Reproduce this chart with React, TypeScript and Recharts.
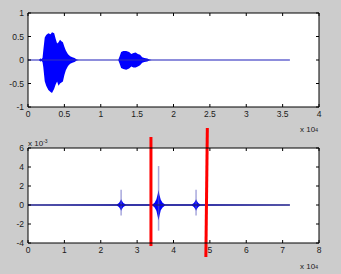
import {
  Area,
  CartesianGrid,
  ComposedChart,
  Line,
  ReferenceLine,
  XAxis,
  YAxis,
} from "recharts";

// top panel: speech waveform envelope (x in units of 10^4 samples)
const topX = [0, 0.15, 0.17, 0.19, 0.2, 0.21, 0.23, 0.25, 0.28, 0.31, 0.33, 0.36, 0.38, 0.4, 0.42, 0.44, 0.46, 0.48, 0.5, 0.52, 0.55, 0.58, 0.61, 0.64, 0.67, 0.7, 1.24, 1.26, 1.28, 1.31, 1.35, 1.39, 1.42, 1.45, 1.48, 1.51, 1.54, 1.57, 1.6, 1.64, 1.67, 1.7, 3.6];
const topLow = [0, 0, -0.03, -0.02, -0.05, -0.15, -0.45, -0.55, -0.64, -0.68, -0.7, -0.61, -0.52, -0.46, -0.55, -0.5, -0.48, -0.46, -0.32, -0.22, -0.13, -0.08, -0.06, -0.04, -0.01, 0, 0, -0.08, -0.17, -0.19, -0.21, -0.18, -0.14, -0.16, -0.16, -0.14, -0.11, -0.06, -0.04, -0.03, -0.01, 0, 0];
const topHigh = [0, 0, 0.03, 0.02, 0.05, 0.2, 0.48, 0.53, 0.57, 0.55, 0.59, 0.57, 0.45, 0.35, 0.38, 0.43, 0.4, 0.38, 0.28, 0.2, 0.12, 0.08, 0.06, 0.04, 0.01, 0, 0, 0.08, 0.17, 0.19, 0.19, 0.17, 0.13, 0.15, 0.16, 0.13, 0.11, 0.06, 0.04, 0.03, 0.01, 0, 0];
const topXTicks = [0, 0.5, 1, 1.5, 2, 2.5, 3, 3.5, 4];
const topYTicks = [-1, -0.5, 0, 0.5, 1];

// bottom panel: detected bursts (x in 10^4, y in 10^-3)
const bottomX = [0, 2.44, 2.5, 2.54, 2.56, 2.58, 2.62, 2.69, 3.42, 3.48, 3.53, 3.57, 3.59, 3.61, 3.65, 3.7, 3.77, 4.5, 4.56, 4.6, 4.62, 4.64, 4.68, 4.74, 7.2];
const bottomLow = [0, -0.05, -0.2, -0.45, -0.6, -0.45, -0.2, -0.05, -0.05, -0.25, -0.6, -1.3, -1.6, -1.2, -0.55, -0.25, -0.05, -0.05, -0.2, -0.45, -0.6, -0.45, -0.2, -0.05, 0];
const bottomHigh = [0, 0.05, 0.2, 0.45, 0.6, 0.45, 0.2, 0.05, 0.05, 0.25, 0.6, 1.2, 1.6, 1.1, 0.55, 0.25, 0.05, 0.05, 0.2, 0.45, 0.6, 0.45, 0.2, 0.05, 0];
const spikeX = [2.56, 3.59, 4.62];
const spikeLow = [-1.1, -2.7, -1.1];
const spikeHigh = [1.6, 4.1, 1.6];
const bottomXTicks = [0, 1, 2, 3, 4, 5, 6, 7, 8];
const bottomYTicks = [-4, -2, 0, 2, 4, 6];

// hand drawn red cut marks
const cutTopX = [3.38, 4.93];
const cutBottomX = [3.38, 4.89];
const cutTopY = [7.16, 8.1];
const cutBottomY = [-4.32, -5.47];

const topData = topX.map((x, i) => ({ x, env: [topLow[i], topHigh[i]], base: 0 }));
const bottomData = bottomX.map((x, i) => ({
  x,
  env: [bottomLow[i], bottomHigh[i]],
  base: 0,
}));

const font = "'Liberation Sans', Arial, sans-serif";
const tickStyle = { fontSize: 8.5, fill: "#1a1a1a", fontFamily: font };
const axisProps = {
  tick: tickStyle,
  tickSize: -3,
  tickMargin: 7,
  axisLine: { stroke: "#000" },
  tickLine: { stroke: "#000" },
  interval: 0 as const,
  allowDataOverflow: true,
};
const blank = () => "";

const labelStyle: React.CSSProperties = {
  position: "absolute",
  fontFamily: font,
  fontSize: 8,
  color: "#1a1a1a",
  lineHeight: "8px",
  whiteSpace: "nowrap",
};

export default function App() {
  return (
    <div
      style={{
        position: "absolute",
        left: 0,
        top: 0,
        width: 341,
        height: 274,
        background: "#cccccc",
        overflow: "hidden",
      }}
    >
      <div style={{ position: "absolute", left: 0, top: 0 }}>
        <ComposedChart
          width={341}
          height={137}
          data={topData}
          margin={{ top: 12, right: 21, bottom: 0, left: 0 }}
        >
          <CartesianGrid fill="#ffffff" stroke="none" horizontal={false} vertical={false} />
          <XAxis dataKey="x" type="number" domain={[0, 4]} ticks={topXTicks} height={30} {...axisProps} />
          <XAxis dataKey="x" xAxisId="t" orientation="top" type="number" domain={[0, 4]} ticks={topXTicks} height={1} {...axisProps} tickFormatter={blank} />
          <YAxis type="number" domain={[-1, 1]} ticks={topYTicks} width={28} {...axisProps} />
          <YAxis yAxisId="r" orientation="right" type="number" domain={[-1, 1]} ticks={topYTicks} width={1} {...axisProps} tickFormatter={blank} />
          <Area
            dataKey="env"
            type="linear"
            fill="#0000ff"
            fillOpacity={1}
            stroke="none"
            isAnimationActive={false}
          />
          <Line
            dataKey="base"
            type="linear"
            stroke="#3030c0"
            strokeOpacity={0.55}
            strokeWidth={2}
            dot={false}
            isAnimationActive={false}
          />
        </ComposedChart>
      </div>
      <div style={{ position: "absolute", left: 0, top: 110 }}>
        <ComposedChart
          width={341}
          height={164}
          data={bottomData}
          margin={{ top: 37, right: 21, bottom: 0, left: 0 }}
        >
          <CartesianGrid fill="#ffffff" stroke="none" horizontal={false} vertical={false} />
          <XAxis dataKey="x" type="number" domain={[0, 8]} ticks={bottomXTicks} height={31} {...axisProps} />
          <XAxis dataKey="x" xAxisId="t" orientation="top" type="number" domain={[0, 8]} ticks={bottomXTicks} height={1} {...axisProps} tickFormatter={blank} />
          <YAxis type="number" domain={[-4, 6]} ticks={bottomYTicks} width={28} {...axisProps} />
          <YAxis yAxisId="r" orientation="right" type="number" domain={[-4, 6]} ticks={bottomYTicks} width={1} {...axisProps} tickFormatter={blank} />
          {spikeX.map((x, i) => (
            <ReferenceLine
              key={"s" + i}
              segment={[
                { x, y: spikeLow[i] },
                { x, y: spikeHigh[i] },
              ]}
              ifOverflow="visible"
              stroke="#6060c0"
              strokeOpacity={0.55}
              strokeWidth={1.5}
            />
          ))}
          <Line
            dataKey="base"
            type="linear"
            stroke="#1c1c8a"
            strokeWidth={1.5}
            dot={false}
            isAnimationActive={false}
          />
          <Area
            dataKey="env"
            type="linear"
            fill="#0000ff"
            fillOpacity={1}
            stroke="none"
            isAnimationActive={false}
          />
          {cutTopX.map((x, i) => (
            <ReferenceLine
              key={"c" + i}
              segment={[
                { x, y: cutTopY[i] },
                { x: cutBottomX[i], y: cutBottomY[i] },
              ]}
              ifOverflow="visible"
              stroke="#ff0000"
              strokeWidth={3}
            />
          ))}
        </ComposedChart>
      </div>
      <div style={{ ...labelStyle, left: 300, top: 126 }}>
        x 10<sup style={{ fontSize: 5, verticalAlign: "top" }}>4</sup>
      </div>
      <div style={{ ...labelStyle, left: 300, top: 263 }}>
        x 10<sup style={{ fontSize: 5, verticalAlign: "top" }}>4</sup>
      </div>
      <div style={{ ...labelStyle, left: 28, top: 140 }}>
        x 10<sup style={{ fontSize: 5, verticalAlign: "top", position: "relative", top: -3 }}>-3</sup>
      </div>
    </div>
  );
}
